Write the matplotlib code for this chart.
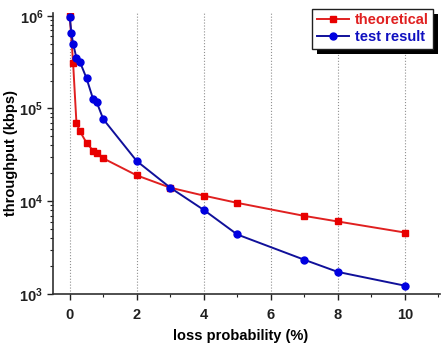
import matplotlib
matplotlib.use("Agg")
import matplotlib.pyplot as plt
from matplotlib.patches import Rectangle
from matplotlib.ticker import LogLocator, MultipleLocator

plt.rcParams['font.family'] = ['Liberation Sans', 'DejaVu Sans']
plt.rcParams['font.weight'] = 'bold'

# loss probability (%) and throughput (kbps)
loss_theory = [0, 0.1, 0.2, 0.3, 0.5, 0.7, 0.8, 1, 2, 3, 4, 5, 7, 8, 10]
tput_theory = [1.0e6, 3.1e5, 6.95e4, 5.7e4, 4.27e4, 3.5e4, 3.28e4, 2.9e4,
               1.9e4, 1.4e4, 1.15e4, 9.6e3, 6.95e3, 6.05e3, 4.6e3]

loss_test = [0, 0.05, 0.1, 0.2, 0.3, 0.5, 0.7, 0.8, 1, 2, 3, 4, 5, 7, 8, 10]
tput_test = [9.6e5, 6.45e5, 5.0e5, 3.5e5, 3.2e5, 2.12e5, 1.25e5, 1.18e5,
             7.67e4, 2.71e4, 1.4e4, 8.06e3, 4.38e3, 2.34e3, 1.73e3, 1.23e3]

W, H = 441, 346
fig = plt.figure(figsize=(W / 100, H / 100), dpi=100)
# axes box in pixels: left 53, right 440, bottom 294, top 13
ax = fig.add_axes([53 / W, (H - 294) / H, 387 / W, 281 / H])

ax.plot(loss_theory, tput_theory, color='#e02020', lw=1.4, marker='s',
        ms=4.5, mfc='#e80000', mec='#e80000', label='theoretical')
ax.plot(loss_test, tput_test, color='#10109a', lw=1.4, marker='o',
        ms=5, mfc='#0000e0', mec='#0000e0', label='test result')

ax.set_yscale('log')
ax.set_xlim(-0.5, 11.05)
ax.set_ylim(1e3, 1.07e6)
ax.xaxis.set_major_locator(MultipleLocator(2))
ax.xaxis.set_minor_locator(MultipleLocator(1))
ax.yaxis.set_major_locator(LogLocator(base=10))
ax.yaxis.set_minor_locator(LogLocator(base=10, subs=range(2, 10)))

ax.grid(axis='x', which='major', color='#909090', ls=':', lw=0.8)
for side in ('top', 'right'):
    ax.spines[side].set_visible(False)
for side in ('left', 'bottom'):
    ax.spines[side].set_color('#303030')
    ax.spines[side].set_linewidth(1.2)

ax.tick_params(axis='both', which='major', direction='out', length=4,
               width=1, labelsize=10.5, colors='#202020')
ax.tick_params(axis='both', which='minor', direction='out', length=2.5,
               width=0.8, colors='#202020')
ax.tick_params(axis='x', pad=6)
ax.tick_params(axis='y', pad=3)

ax.set_xlabel('loss probability (%)', fontsize=10.5, fontweight='bold')
ax.set_ylabel('throughput (kbps)', fontsize=10.5, fontweight='bold')
ax.xaxis.set_label_coords((241 - 53) / 387, (294 - 329) / 281)
ax.yaxis.set_label_coords((18 - 53) / 387, 0.5)

leg = ax.legend(loc='upper right', bbox_to_anchor=((433 - 53) / 387, (294 - 9) / 281),
                fontsize=10.5, frameon=True, fancybox=False, shadow=False,
                handlelength=2.2, handletextpad=0.4, borderpad=0.3,
                labelspacing=0.2, borderaxespad=0.0, framealpha=1)
leg.get_frame().set_edgecolor('#202020')
leg.get_frame().set_linewidth(1.0)
leg.set_zorder(6)
for txt, col in zip(leg.get_texts(), ['#e02020', '#1010c0']):
    txt.set_color(col)
    txt.set_fontweight('bold')

# solid black drop shadow behind the legend box
fig.canvas.draw()
bb = leg.get_window_extent()
off = 5
shadow = Rectangle((bb.x0 + off, bb.y0 - off), bb.width, bb.height,
                   transform=None, facecolor='black', edgecolor='none',
                   zorder=5.5, clip_on=False)
ax.add_artist(shadow)

fig.savefig('out.png', dpi=100)
